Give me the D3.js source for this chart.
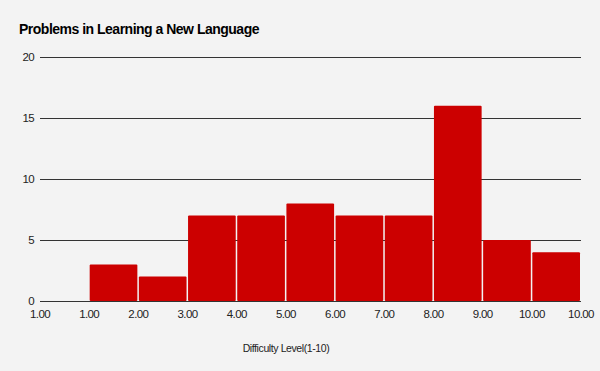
<!DOCTYPE html>
<html><head><meta charset="utf-8">
<script src="https://cdn.jsdelivr.net/npm/d3@7"></script>
<style>body{margin:0;background:#f3f3f3}svg{display:block}text{font-family:"Liberation Sans",Arial,sans-serif}</style>
</head><body>
<script>
const binEdgeLabels = ["1.00","1.00","2.00","3.00","4.00","5.00","6.00","7.00","8.00","9.00","10.00","10.00"];
const counts = [0,3,2,7,7,8,7,7,16,5,4];
const yTicks = [0,5,10,15,20];
const title = "Problems in Learning a New Language";
const xTitle = "Difficulty Level(1-10)";

const W=600,H=371;
const svg=d3.select("body").append("svg").attr("width",W).attr("height",H);
svg.append("rect").attr("width",W).attr("height",H).attr("fill","#f3f3f3");
const x=d3.scaleLinear().domain([0,counts.length]).range([40,581]);
const y=d3.scaleLinear().domain([0,20]).range([301,57]);

svg.append("text").attr("x",19).attr("y",34).attr("font-size",14).attr("font-weight","bold").attr("letter-spacing",-0.5).attr("fill","#000").text(title);

const gy=svg.append("g");
yTicks.forEach(t=>{
  gy.append("line").attr("x1",40).attr("x2",581).attr("y1",Math.round(y(t))+0.5).attr("y2",Math.round(y(t))+0.5).attr("stroke","#333").attr("stroke-width",1);
  gy.append("text").attr("x",34).attr("y",y(t)+4).attr("text-anchor","end").attr("font-size",11.5).attr("letter-spacing",-0.6).attr("fill","#222").text(t);
});

svg.append("g").selectAll("rect").data(counts).join("rect")
  .attr("x",(d,i)=>x(i)+0.5).attr("width",(d,i)=>x(i+1)-x(i)-1.5)
  .attr("y",d=>y(d)).attr("height",d=>y(0)-y(d)).attr("fill","#cc0000").attr("rx",1);

svg.append("line").attr("x1",40).attr("x2",581).attr("y1",301.5).attr("y2",301.5).attr("stroke","#333");

svg.append("g").selectAll("text").data(binEdgeLabels).join("text")
  .attr("x",(d,i)=>x(i)).attr("y",318).attr("text-anchor","middle").attr("font-size",11.5).attr("letter-spacing",-0.6).attr("fill","#222").text(d=>d);

svg.append("text").attr("x",286).attr("y",352).attr("text-anchor","middle").attr("font-size",10.5).attr("letter-spacing",-0.4).attr("fill","#222").text(xTitle);
</script>
</body></html>
